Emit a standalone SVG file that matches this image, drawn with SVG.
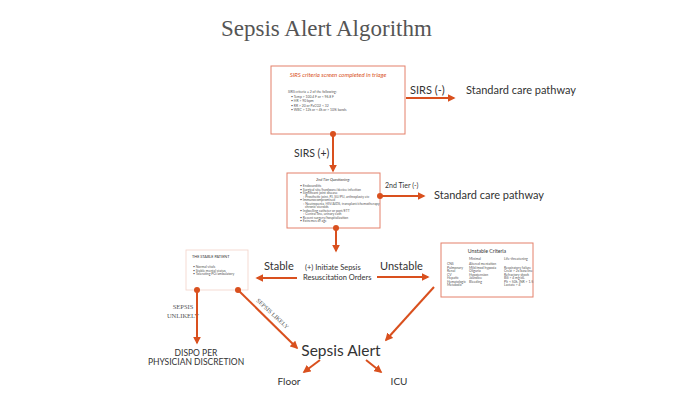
<svg xmlns="http://www.w3.org/2000/svg" width="700" height="394" viewBox="0 0 700 394">
<defs>
<marker id="ah" viewBox="0 0 10 10" refX="8" refY="5" markerWidth="4" markerHeight="4" orient="auto" markerUnits="strokeWidth">
<path d="M0,0 L10,5 L0,10 Z" fill="#d9501e"/>
</marker>
<style>
.box{fill:#fff;stroke:#e4806a;stroke-width:1}
.con{stroke:#d9501e;stroke-width:2;fill:none}
.dot{fill:#d9501e}
.lbl{font-family:Lato,"Open Sans",sans-serif;fill:#333}
.tiny{font-family:Lato,sans-serif;font-size:3.4px;fill:#555}
.red{fill:#d9501e}
.serif{font-family:"Liberation Serif","DejaVu Serif",serif;fill:#555}
</style>
</defs>
<rect width="700" height="394" fill="#fff"/>
<text x="221" y="36" class="serif" font-size="23" fill="#555">Sepsis Alert Algorithm</text>

<g id="n1">
<rect class="box" x="271" y="66" width="134" height="68"/>
<text x="338" y="77" class="lbl red" font-size="6" font-style="italic" text-anchor="middle" fill="#d9501e">SIRS criteria screen completed in triage</text>
<text class="tiny"><tspan x="288" y="93">SIRS criteria = 2 of the following:</tspan><tspan x="291" y="97.5">• Temp &gt; 100.4 F or &lt; 96.8 F</tspan><tspan x="291" y="102">• HR &gt; 90 bpm</tspan><tspan x="291" y="106.5">• RR &gt; 20 or PaCO2 &lt; 32</tspan><tspan x="291" y="111">• WBC &gt; 12k or &lt; 4k or &gt; 10% bands</tspan></text>
</g>

<g id="n2">
<rect class="box" x="287" y="173" width="93" height="55"/>
<text x="333" y="181" class="lbl" font-size="3.8" font-style="italic" text-anchor="middle" fill="#d9501e">2nd Tier Questioning:</text>
<text class="tiny" font-size="3px"><tspan x="300" y="187">• Endocarditis</tspan><tspan x="300" y="190.5">• Surgical site/hardware/device infection</tspan><tspan x="300" y="194">• Significant joint disease</tspan><tspan x="303" y="197.5">◦ Prosthetic joint, PJ, SIJ/PIJ, arthroplasty etc</tspan><tspan x="300" y="201">• Immunocompromised</tspan><tspan x="303" y="204.5">◦ Neutropenia, HIV/AIDS, transplant/chemotherapy</tspan><tspan x="305" y="208">chronic steroids</tspan><tspan x="300" y="211.5">• Indwelling catheter or port/ETT</tspan><tspan x="303" y="215">◦ Central line, urinary cath</tspan><tspan x="300" y="218.5">• Recent surgery/hospitalization</tspan><tspan x="300" y="222">• Extremes of age</tspan></text>
</g>

<g id="n3">
<rect class="box" x="441" y="243" width="92" height="54"/>
<text x="487" y="253" class="lbl" font-size="5.2" text-anchor="middle" fill="#555">Unstable Criteria</text>
<text class="tiny" font-size="3px"><tspan x="469" y="260">Minimal</tspan><tspan x="504" y="260">Life-threatening</tspan></text>
<text class="tiny" font-size="3px"><tspan x="447" y="265">CNS</tspan><tspan x="447" y="268.5">Pulmonary</tspan><tspan x="447" y="272">Renal</tspan><tspan x="447" y="275.5">CV</tspan><tspan x="447" y="279">Hepatic</tspan><tspan x="447" y="282.5">Hematologic</tspan><tspan x="447" y="286">Metabolic</tspan></text>
<text class="tiny" font-size="3px"><tspan x="469" y="265">Altered mentation</tspan><tspan x="469" y="268.5">Mild/mod hypoxia</tspan><tspan x="469" y="272">Oliguria</tspan><tspan x="469" y="275.5">Hypotension</tspan><tspan x="469" y="279">Jaundice</tspan><tspan x="469" y="282.5">Bleeding</tspan></text>
<text class="tiny" font-size="3px"><tspan x="504" y="268.5">Respiratory failure</tspan><tspan x="504" y="272">Creat &gt; 2x baseline</tspan><tspan x="504" y="275.5">Refractory shock</tspan><tspan x="504" y="279">Bili &gt; 4 mg/dL</tspan><tspan x="504" y="282.5">Plt &lt; 50k, INR &gt; 1.5</tspan><tspan x="504" y="286">Lactate &gt; 4</tspan></text>
</g>

<g id="n4">
<rect x="186" y="250" width="62" height="40" fill="#fff" stroke="#f3d2c8" stroke-width="0.8"/>
<text x="192" y="258" class="lbl" font-size="3.8" fill="#d9501e">THE STABLE PATIENT</text>
<text class="tiny" font-size="3px"><tspan x="193" y="268">• Normal vitals</tspan><tspan x="193" y="271.5">• Stable mental status</tspan><tspan x="193" y="275">• Tolerating PO/ambulatory</tspan></text>
</g>

<g id="labels">
<text x="410" y="94" class="lbl" font-size="11">SIRS (-)</text>
<text x="466" y="94" class="lbl" font-size="11">Standard care pathway</text>
<text x="294" y="157" class="lbl" font-size="10.5">SIRS (+)</text>
<text x="385" y="188" class="lbl" font-size="7">2nd Tier (-)</text>
<text x="434" y="199" class="lbl" font-size="11">Standard care pathway</text>
<text x="305" y="270" class="lbl" font-size="7.5">(+) Initiate Sepsis</text>
<text x="303" y="280" class="lbl" font-size="7.5">Resuscitation Orders</text>
<text x="264" y="270" class="lbl" font-size="11">Stable</text>
<text x="380" y="270" class="lbl" font-size="11">Unstable</text>
<text x="183" y="309" class="serif" font-size="6.5" text-anchor="middle">SEPSIS</text>
<text x="183" y="318" class="serif" font-size="6.5" text-anchor="middle">UNLIKELY</text>
<text x="0" y="0" class="serif" font-size="6" transform="translate(256,301) rotate(43)">SEPSIS LIKELY</text>
<text x="196" y="356" class="lbl" font-size="8.5" text-anchor="middle">DISPO PER</text>
<text x="196" y="365" class="lbl" font-size="8.5" text-anchor="middle">PHYSICIAN DISCRETION</text>
<text x="341" y="356" class="lbl" font-size="15.5" text-anchor="middle">Sepsis Alert</text>
<text x="289" y="385" class="lbl" font-size="10" text-anchor="middle">Floor</text>
<text x="399" y="385" class="lbl" font-size="10" text-anchor="middle">ICU</text>
</g>

<g id="connectors">
<line class="con" x1="406" y1="98" x2="454" y2="98" marker-end="url(#ah)"/>
<circle class="dot" cx="333" cy="134" r="3"/>
<line class="con" x1="333" y1="134" x2="333" y2="171" marker-end="url(#ah)"/>
<circle class="dot" cx="380" cy="196" r="3"/>
<line class="con" x1="380" y1="196" x2="424" y2="196" marker-end="url(#ah)"/>
<circle class="dot" cx="336" cy="228" r="3"/>
<line class="con" x1="336" y1="228" x2="336" y2="251" marker-end="url(#ah)"/>
<line class="con" x1="297" y1="278" x2="257" y2="278" marker-end="url(#ah)"/>
<line class="con" x1="377" y1="277" x2="428" y2="277" marker-end="url(#ah)"/>
<circle class="dot" cx="197" cy="290" r="3"/>
<line class="con" x1="197" y1="290" x2="197" y2="343" marker-end="url(#ah)"/>
<circle class="dot" cx="238" cy="290" r="3"/>
<line class="con" x1="238" y1="290" x2="297" y2="348" marker-end="url(#ah)"/>
<line class="con" x1="434" y1="287" x2="386" y2="340" marker-end="url(#ah)"/>
<line class="con" x1="320" y1="360" x2="304" y2="372" marker-end="url(#ah)"/>
<line class="con" x1="366" y1="360" x2="381" y2="372" marker-end="url(#ah)"/>
</g>
</svg>
